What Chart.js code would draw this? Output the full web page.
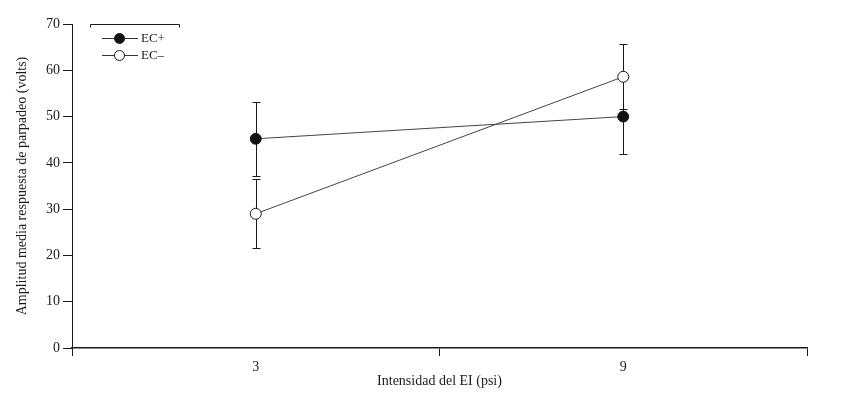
<!DOCTYPE html>
<html>
<head>
<meta charset="utf-8">
<script src="https://cdn.jsdelivr.net/npm/chart.js@4"></script>
<style>
html,body{margin:0;padding:0;background:#fff;}
#wrap{width:846px;height:398px;}
</style>
</head>
<body>
<div id="wrap"><canvas id="c" width="846" height="398"></canvas></div>
<script>
const categories = ['3', '9'];
const ecPlus = [45.2, 50.0];
const ecPlusErr = [8.0, 8.0];
const ecMinus = [29.0, 58.6];
const ecMinusErr = [7.5, 7.0];
const seriesLabels = ['EC+', 'EC\u2013'];
const yMin = 0, yMax = 70, yStep = 10;
const xTitle = 'Intensidad del EI (psi)';
const yTitle = 'Amplitud media respuesta de parpadeo (volts)';

const FONT = '"Liberation Serif", "Times New Roman", serif';
const INK = '#1a1a1a';

const errorBars = {
  id: 'errorBars',
  beforeDatasetsDraw(chart) {
    const ctx = chart.ctx;
    const y = chart.scales.y;
    ctx.save();
    ctx.strokeStyle = INK;
    ctx.lineWidth = 1;
    chart.data.datasets.forEach((ds, i) => {
      const meta = chart.getDatasetMeta(i);
      meta.data.forEach((pt, j) => {
        const v = ds.data[j], e = ds.err[j];
        const x = Math.round(pt.x) + 0.5;
        const yt = Math.round(y.getPixelForValue(v + e)) + 0.5;
        const yb = Math.round(y.getPixelForValue(v - e)) + 0.5;
        ctx.beginPath();
        ctx.moveTo(x, yt); ctx.lineTo(x, yb);
        ctx.moveTo(x - 4, yt); ctx.lineTo(x + 4, yt);
        ctx.moveTo(x - 4, yb); ctx.lineTo(x + 4, yb);
        ctx.stroke();
      });
    });
    ctx.restore();
  }
};

const customLegend = {
  id: 'customLegend',
  afterDraw(chart) {
    const ctx = chart.ctx;
    ctx.save();
    ctx.strokeStyle = INK;
    ctx.lineWidth = 1;
    ctx.beginPath();
    ctx.moveTo(90.5, 27.5); ctx.lineTo(90.5, 24.5); ctx.lineTo(179.5, 24.5); ctx.lineTo(179.5, 27.5);
    ctx.stroke();
    chart.data.datasets.forEach((ds, i) => {
      const yy = 38.5 + i * 17;
      ctx.strokeStyle = '#333';
      ctx.lineWidth = 1;
      ctx.beginPath();
      ctx.moveTo(102, yy); ctx.lineTo(138, yy);
      ctx.stroke();
      ctx.beginPath();
      ctx.arc(119.5, yy, 5, 0, Math.PI * 2);
      ctx.fillStyle = ds.pointBackgroundColor;
      ctx.fill();
      ctx.strokeStyle = INK;
      ctx.stroke();
      ctx.fillStyle = INK;
      ctx.font = '13px ' + FONT;
      ctx.textBaseline = 'middle';
      ctx.textAlign = 'left';
      ctx.fillText(ds.label, 141, yy);
    });
    ctx.restore();
  }
};

new Chart(document.getElementById('c'), {
  type: 'line',
  data: {
    labels: categories,
    datasets: [
      {
        label: seriesLabels[0], data: ecPlus, err: ecPlusErr,
        borderColor: '#444', borderWidth: 1,
        pointRadius: 5.5, pointHoverRadius: 5.5,
        pointBackgroundColor: '#111', pointBorderColor: INK, pointBorderWidth: 1
      },
      {
        label: seriesLabels[1], data: ecMinus, err: ecMinusErr,
        borderColor: '#444', borderWidth: 1,
        pointRadius: 5.5, pointHoverRadius: 5.5,
        pointBackgroundColor: '#ffffff', pointBorderColor: INK, pointBorderWidth: 1
      }
    ]
  },
  options: {
    responsive: false,
    animation: false,
    layout: { padding: { top: 24, right: 39, left: 0, bottom: 0 } },
    plugins: { legend: { display: false }, tooltip: { enabled: false } },
    scales: {
      x: {
        type: 'category',
        offset: true,
        afterFit(s) { s.height = 50; },
        grid: { offset: true, drawOnChartArea: false, drawTicks: true, tickLength: 8, color: INK, lineWidth: 1 },
        border: { display: true, color: INK, width: 1.6 },
        ticks: { color: INK, font: { family: FONT, size: 14 }, padding: 3 },
        title: { display: true, text: xTitle, color: INK, font: { family: FONT, size: 14 }, padding: { top: 0, bottom: 8 } }
      },
      y: {
        min: yMin, max: yMax,
        afterFit(s) { s.width = 72; },
        grid: { drawOnChartArea: false, drawTicks: true, tickLength: 9, color: INK, lineWidth: 1 },
        border: { display: true, color: INK, width: 1 },
        ticks: { stepSize: yStep, color: INK, font: { family: FONT, size: 14 }, padding: 3 },
        title: { display: true, text: yTitle, color: INK, font: { family: FONT, size: 14 }, padding: { top: 14, bottom: 0 } }
      }
    }
  },
  plugins: [errorBars, customLegend]
});
</script>
</body>
</html>
